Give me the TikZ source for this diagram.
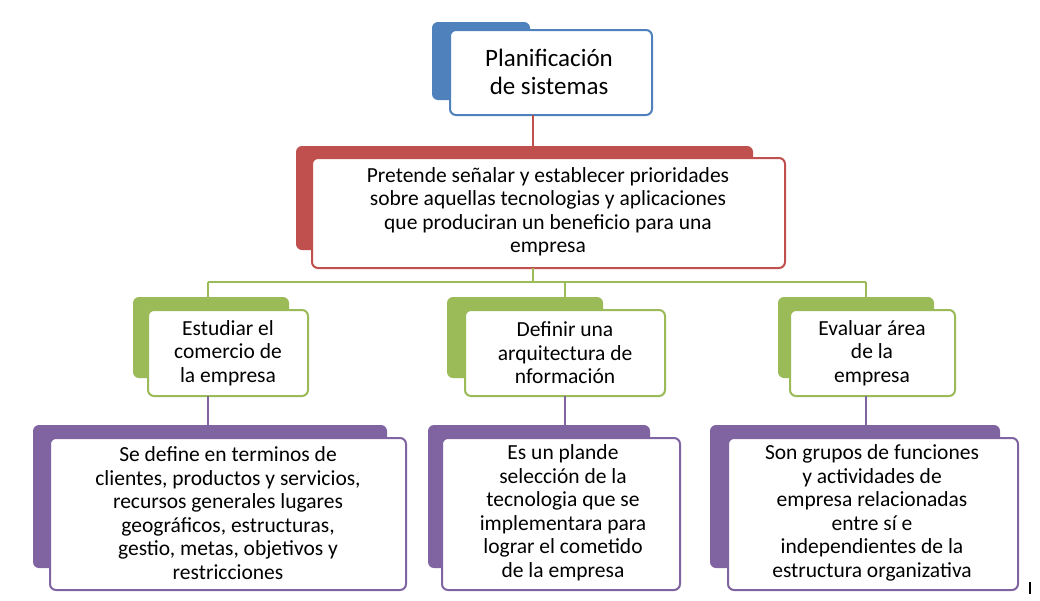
\documentclass[tikz,border=0pt]{standalone}
\usepackage{fontspec}
\setmainfont{Carlito}
\begin{document}
\begin{tikzpicture}[x=1pt,y=-1pt]
\definecolor{cb}{HTML}{4F81BD}\definecolor{cr}{HTML}{C0504D}
\definecolor{cg}{HTML}{9BBB59}\definecolor{cp}{HTML}{8064A2}
\tikzset{back/.style={fill=#1,draw=none,rounded corners=6pt},
 front/.style={fill=white,draw=#1,line width=2pt,rounded corners=6pt},
 txt/.style={font=\fontsize{21.5}{23.5}\selectfont,align=center,inner sep=0pt},
 conn/.style={line width=1.2pt,draw=#1}}
\useasboundingbox (0,0) rectangle (1040,600);
% top
\fill[back=cb] (432,22) rectangle (530,100);
\draw[front=cb] (450,30) rectangle (652,115);
\node[txt,font=\fontsize{25}{28}\selectfont] (top) at (549,72) {Planificación\\de sistemas};
\coordinate (topb) at (533,115);
% red
\fill[back=cr] (296,146) rectangle (753,250);
\draw[front=cr] (312,158) rectangle (785,268);
\node[txt] (red) at (548,212) {Pretende señalar y establecer prioridades\\sobre aquellas tecnologias y aplicaciones\\que produciran un beneficio para una\\empresa};
\coordinate (redt) at (533,158);
\coordinate (redb) at (533,268);
\draw[conn=cr] (topb) -- (redt);
% green
\foreach \bx/\fx/\fw/\cx/\t/\n in {133/148/308/228/{Estudiar el\\comercio de\\la empresa}/g1, 447/465/665/565/{Definir una\\arquitectura de\\nformación}/g2, 778/790/955/872/{Evaluar área\\de la\\empresa}/g3}{
 \fill[back=cg] (\bx,297) rectangle (\bx+156,378);
 \draw[front=cg] (\fx,310) rectangle (\fw,396);
 \node[txt] (\n) at (\cx,353) {\t};
}
\coordinate (h) at (533,282);
\coordinate (hl) at (208,282);\coordinate (hm) at (565,282);\coordinate (hr) at (866,282);
\draw[conn=cg] (redb) -- (h);
\draw[conn=cg] (hl) -- (hr);
\draw[conn=cg] (hl) -- (208,310);
\draw[conn=cg] (hm) -- (565,310);
\draw[conn=cg] (hr) -- (866,310);
% purple
\fill[back=cp] (33,425) rectangle (387,568);
\draw[front=cp] (50,438) rectangle (406,590);
\node[txt] (p1) at (228,513) {Se define en terminos de\\clientes, productos y servicios,\\recursos generales lugares\\geográficos, estructuras,\\gestio, metas, objetivos y\\restricciones};
\fill[back=cp] (428,425) rectangle (650,568);
\draw[front=cp] (442,438) rectangle (680,590);
\node[txt] (p2) at (563,513) {Es un plande\\selección de la\\tecnologia que se\\implementara para\\lograr el cometido\\de la empresa};
\fill[back=cp] (710,425) rectangle (1000,568);
\draw[front=cp] (728,438) rectangle (1018,590);
\node[txt] (p3) at (872,513) {Son grupos de funciones\\y actividades de\\empresa relacionadas\\entre sí e\\independientes de la\\estructura organizativa};
\draw[conn=cp] (208,396) -- (208,438);
\draw[conn=cp] (565,396) -- (565,438);
\draw[conn=cp] (866,396) -- (866,438);
\draw[line width=2pt] (1030,582) -- (1030,594);
\end{tikzpicture}
\end{document}
